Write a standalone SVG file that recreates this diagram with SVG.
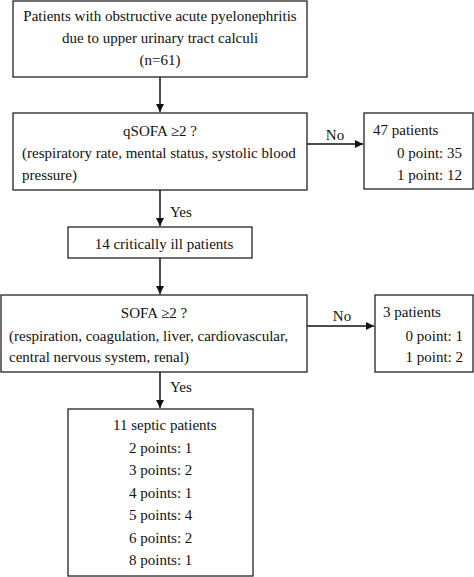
<svg xmlns="http://www.w3.org/2000/svg" width="474" height="577" viewBox="0 0 474 577" font-family="Liberation Serif, Times New Roman, serif" font-size="15">
<defs>
<style>
rect{fill:#fff;stroke:#222;stroke-width:1.3}
text{fill:#111}
.c{text-anchor:middle}
.r{text-anchor:end}
.ln{stroke:#111;stroke-width:1.5;fill:none}
</style>
<marker id="ah" markerWidth="10" markerHeight="10" refX="8" refY="4" orient="auto" markerUnits="userSpaceOnUse">
<path d="M0,0 L8,4 L0,8 Z" fill="#111"/>
</marker>
</defs>
<rect x="0" y="0" width="474" height="577" style="fill:#fff;stroke:none"/>
<g id="connectors">
<line class="ln" x1="160" y1="77" x2="160" y2="112" marker-end="url(#ah)"/>
<line class="ln" x1="307" y1="144" x2="363" y2="144" marker-end="url(#ah)"/>
<line class="ln" x1="160" y1="190" x2="160" y2="226" marker-end="url(#ah)"/>
<line class="ln" x1="160" y1="258" x2="160" y2="294" marker-end="url(#ah)"/>
<line class="ln" x1="307" y1="326" x2="374" y2="326" marker-end="url(#ah)"/>
<line class="ln" x1="160" y1="372" x2="160" y2="408" marker-end="url(#ah)"/>
<text x="335" y="140" class="c">No</text>
<text x="170" y="217">Yes</text>
<text x="342" y="321" class="c">No</text>
<text x="170" y="392">Yes</text>
</g>
<g id="start">
<rect x="13" y="1" width="294" height="76"/>
<text x="160" y="21" class="c">Patients with obstructive acute pyelonephritis</text>
<text x="160" y="43" class="c">due to upper urinary tract calculi</text>
<text x="160" y="65" class="c">(n=61)</text>
</g>
<g id="qsofa">
<rect x="13" y="113" width="294" height="77"/>
<text x="160" y="136" class="c">qSOFA ≥2 ?</text>
<text x="22" y="158">(respiratory rate, mental status, systolic blood</text>
<text x="22" y="180">pressure)</text>
</g>
<g id="no1">
<rect x="364" y="113" width="109" height="76"/>
<text x="373" y="135">47 patients</text>
<text x="462" y="158" class="r">0 point: 35</text>
<text x="462" y="180" class="r">1 point: 12</text>
</g>
<g id="critical">
<rect x="68" y="227" width="184" height="31"/>
<text x="164" y="249" class="c">14 critically ill patients</text>
</g>
<g id="sofa">
<rect x="1" y="295" width="306" height="77"/>
<text x="154" y="318" class="c">SOFA ≥2 ?</text>
<text x="9" y="341">(respiration, coagulation, liver, cardiovascular,</text>
<text x="9" y="362">central nervous system, renal)</text>
</g>
<g id="no2">
<rect x="375" y="295" width="98" height="77"/>
<text x="383" y="317">3 patients</text>
<text x="463" y="341" class="r">0 point: 1</text>
<text x="463" y="362" class="r">1 point: 2</text>
</g>
<g id="septic">
<rect x="68" y="409" width="185" height="167"/>
<text x="113" y="430">11 septic patients</text>
<text x="129" y="453">2 points: 1</text>
<text x="129" y="475">3 points: 2</text>
<text x="129" y="498">4 points: 1</text>
<text x="129" y="520">5 points: 4</text>
<text x="129" y="543">6 points: 2</text>
<text x="129" y="565">8 points: 1</text>
</g>
</svg>
